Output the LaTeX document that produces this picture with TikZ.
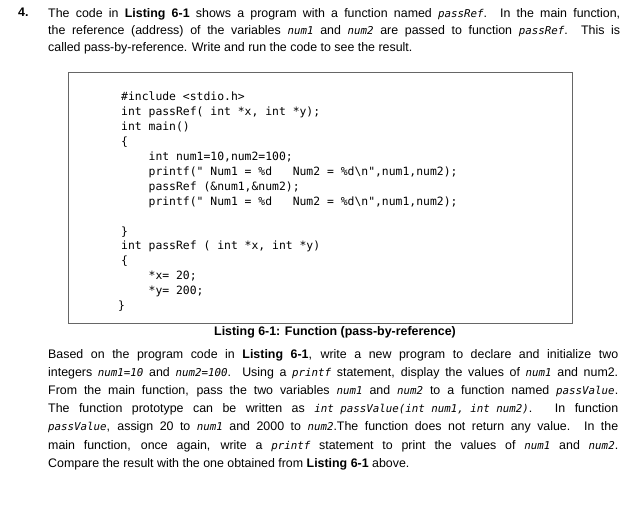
\documentclass[tikz,border=0pt]{standalone}
\usepackage{fontspec}
\setmainfont{Liberation Sans}
\setmonofont{DejaVu Sans Mono}
\newcommand{\ci}[1]{{\ttfamily\itshape\fontsize{10.8}{12}\selectfont #1}}
\usetikzlibrary{positioning}
\begin{document}
\begin{tikzpicture}[x=1pt,y=-1pt]
\tikzstyle{para}=[anchor=north west,inner sep=0pt,text width=570pt,align=justify,font=\fontsize{12.4}{18.2}\selectfont]
\tikzstyle{code}=[anchor=north west,inner sep=0pt,align=left,font=\ttfamily\fontsize{11.4}{14.9}\selectfont]
\useasboundingbox (0,0) rectangle (640,505);
\node (num) [anchor=north west,inner sep=0pt,font=\fontsize{12.4}{17.8}\selectfont\bfseries] at (18,8) {4.};
\node (intro) [para,text width=572pt,font=\fontsize{12.4}{17.4}\selectfont] at (48,8) {The code in \textbf{Listing 6-1} shows a program with a function named \ci{passRef}. In the main function,\linebreak
the reference (address) of the variables \ci{num1} and \ci{num2} are passed to function \ci{passRef}.\ \ This is\linebreak
called pass-by-reference. Write and run the code to see the result.};
\node (box) [draw=black!60,line width=0.8pt,minimum width=504pt,minimum height=251pt,anchor=north west,inner sep=0pt] at (68,72) {};
\node (listing) [code] at (121,92) {\#include <stdio.h>\\
int passRef( int *x, int *y);\\
int main()\\
\{\\
\ \ \ \ int num1=10,num2=100;\\
\ \ \ \ printf(" Num1 = \%d\ \ \ Num2 = \%d\textbackslash n",num1,num2);\\
\ \ \ \ passRef (\&num1,\&num2);\\
\ \ \ \ printf(" Num1 = \%d\ \ \ Num2 = \%d\textbackslash n",num1,num2);\\
\\
\}\\
int passRef ( int *x, int *y)\\
\{\\
\ \ \ \ *x= 20;\\
\ \ \ \ *y= 200;\\
\hspace{-3pt}\}};
\node (caption) [font=\fontsize{12.4}{14}\selectfont\bfseries,inner sep=0pt] at (335,332) {Listing 6-1: Function (pass-by-reference)};
\node (task) [para] at (48,349) {Based on the program code in \textbf{Listing 6-1}, write a new program to declare and initialize two\linebreak
integers \ci{num1=10} and \ci{num2=100}. Using a \ci{printf} statement, display the values of \ci{num1} and num2.\linebreak
From the main function, pass the two variables \ci{num1} and \ci{num2} to a function named \ci{passValue}.\linebreak
The function prototype can be written as \ci{int passValue(int num1, int num2)}. In function\linebreak
\ci{passValue}, assign 20 to \ci{num1} and 2000 to \ci{num2}.The function does not return any value. In the\linebreak
main function, once again, write a \ci{printf} statement to print the values of \ci{num1} and \ci{num2}.\linebreak
Compare the result with the one obtained from \textbf{Listing 6-1} above.};
\end{tikzpicture}
\end{document}
